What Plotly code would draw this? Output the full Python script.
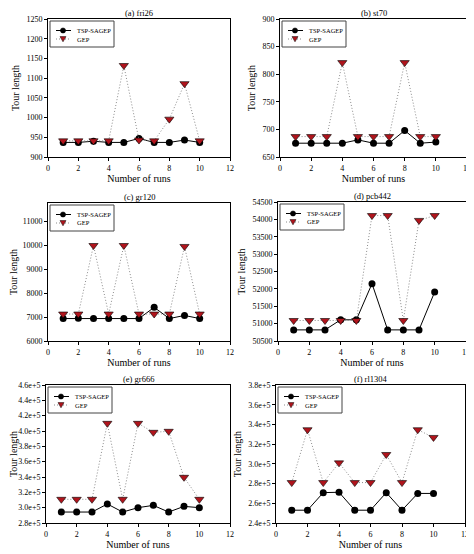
import plotly.graph_objects as go

runs = [1, 2, 3, 4, 5, 6, 7, 8, 9, 10]

# (a) fri26
fri26_sagep = [937, 937, 940, 937, 937, 947, 937, 937, 943, 937]
fri26_gep = [941, 941, 941, 941, 1132, 943, 941, 996, 1086, 941]
# (b) st70
st70_sagep = [675, 675, 675, 675, 681, 675, 675, 698, 675, 677]
st70_gep = [687, 687, 687, 821, 687, 687, 687, 821, 687, 687]
# (c) gr120
gr120_sagep = [6940, 6950, 6940, 6940, 6940, 6940, 7410, 6940, 7070, 6940]
gr120_gep = [7130, 7130, 10000, 7130, 10000, 7130, 7130, 7130, 9960, 7130]
# (d) pcb442
pcb442_sagep = [50820, 50820, 50820, 51110, 51110, 52150, 50820, 50820, 50820, 51910]
pcb442_gep = [51090, 51090, 51090, 51090, 51090, 54110, 54110, 51090, 53970, 54110]
# (e) gr666
gr666_sagep = [294300, 294300, 294300, 304800, 294300, 300000, 303000, 294300, 301700, 300000]
gr666_gep = [310900, 310900, 310900, 410000, 310900, 410000, 398300, 399600, 339600, 310900]
# (f) rl1304
rl1304_sagep = [253000, 253000, 270800, 271200, 253000, 253000, 270800, 253000, 270000, 270000]
rl1304_gep = [281000, 334600, 281000, 301000, 281000, 281000, 309500, 281000, 334600, 326800]

titles = ["(a) fri26", "(b) st70", "(c) gr120", "(d) pcb442", "(e) gr666", "(f) rl1304"]
series_names = ["TSP-SAGEP", "GEP"]

e_ticks = [280000, 300000, 320000, 340000, 360000, 380000, 400000, 420000, 440000, 460000]
e_text = ["2.8e+5", "3.0e+5", "3.2e+5", "3.4e+5", "3.6e+5", "3.8e+5", "4.0e+5", "4.2e+5", "4.4e+5", "4.6e+5"]
f_ticks = [240000, 260000, 280000, 300000, 320000, 340000, 360000, 380000]
f_text = ["2.4e+5", "2.6e+5", "2.8e+5", "3.0e+5", "3.2e+5", "3.4e+5", "3.6e+5", "3.8e+5"]

panels = [
    dict(s=fri26_sagep, g=fri26_gep, yr=[900, 1250], dt=50, tv=None, tt=None),
    dict(s=st70_sagep, g=st70_gep, yr=[650, 900], dt=50, tv=None, tt=None),
    dict(s=gr120_sagep, g=gr120_gep, yr=[6000, 11780], dt=1000, tv=None, tt=None),
    dict(s=pcb442_sagep, g=pcb442_gep, yr=[50500, 54500], dt=500, tv=None, tt=None),
    dict(s=gr666_sagep, g=gr666_gep, yr=[280000, 460000], dt=None, tv=e_ticks, tt=e_text),
    dict(s=rl1304_sagep, g=rl1304_gep, yr=[240000, 380000], dt=None, tv=f_ticks, tt=f_text),
]

# plot-area boxes in window pixels: left, right, top, bottom
boxes = [
    (48, 230, 19, 157), (280, 467, 19, 157),
    (48, 230, 203, 341), (278, 466, 202, 341),
    (46, 230, 385, 523), (276, 465, 385, 523),
]

# the page body has an 8px margin, so the figure starts at (8, 8)
OFF = 8
FW, FH = 474 - OFF, 554 - OFF

font = "Liberation Serif"
RED = "#b0141c"
GREY = "#8c8c8c"
DOT = "1px,2px"


def px(x):
    return (x - OFF) / FW


def py(y):
    return 1 - (y - OFF) / FH


fig = go.Figure()
annotations = []
shapes = []
layout = {}

for i, (p, b) in enumerate(zip(panels, boxes)):
    n = "" if i == 0 else str(i + 1)
    xa, ya = "x" + n, "y" + n
    l, r, t, bt = b
    fig.add_trace(go.Scatter(
        x=runs, y=p["s"], name=series_names[0], xaxis=xa, yaxis=ya,
        mode="lines+markers", line=dict(color="black", width=1),
        marker=dict(symbol="circle", size=7, color="black"), showlegend=False))
    fig.add_trace(go.Scatter(
        x=runs, y=p["g"], name=series_names[1], xaxis=xa, yaxis=ya,
        mode="lines+markers", line=dict(color=GREY, width=1, dash=DOT),
        marker=dict(symbol="triangle-down", size=8, color=RED,
                    line=dict(color="black", width=0.6)), showlegend=False))

    layout["xaxis" + n] = dict(
        domain=[px(l), px(r)], anchor=ya, range=[0, 12], dtick=2,
        showgrid=False, zeroline=False, showline=True, mirror=True,
        linecolor="black", linewidth=1, ticks="outside", ticklen=3,
        tickcolor="black", automargin=False,
        tickfont=dict(family=font, size=8, color="black"),
        title=dict(text="Number of runs", standoff=0,
                   font=dict(family=font, size=10, color="black")))
    ya_d = dict(
        domain=[py(bt), py(t)], anchor=xa, range=p["yr"], showgrid=False,
        zeroline=False, showline=True, mirror=True, linecolor="black",
        linewidth=1, ticks="outside", ticklen=3, tickcolor="black",
        automargin=False,
        tickfont=dict(family=font, size=8, color="black"),
        title=dict(text="Tour length", standoff=4,
                   font=dict(family=font, size=10, color="black")))
    if p["tv"] is not None:
        ya_d["tickvals"] = p["tv"]
        ya_d["ticktext"] = p["tt"]
    else:
        ya_d["dtick"] = p["dt"]
        ya_d["tick0"] = p["yr"][0]
        ya_d["tickformat"] = "d"
    layout["yaxis" + n] = ya_d

    # panel title
    annotations.append(dict(
        text=titles[i], x=px((l + r) / 2), y=py(t - 6),
        xref="paper", yref="paper", showarrow=False,
        xanchor="center", yanchor="middle",
        font=dict(family=font, size=8.5, color="black")))

    # boxed legend in the top-left corner
    bx0, bx1, by0, by1 = l + 2, l + 66, t + 2, t + 28
    shapes.append(dict(type="rect", xref="paper", yref="paper",
                       x0=px(bx0), x1=px(bx1), y0=py(by1), y1=py(by0),
                       line=dict(color="#444444", width=1), fillcolor="white",
                       layer="above"))
    r1, r2 = t + 11.5, t + 20
    sx0, sx1, sc = l + 8, l + 23, l + 15
    shapes.append(dict(type="line", xref="paper", yref="paper",
                       x0=px(sx0), x1=px(sx1), y0=py(r1), y1=py(r1),
                       line=dict(color="black", width=1), layer="above"))
    shapes.append(dict(type="circle", xref="paper", yref="paper",
                       x0=px(sc - 2.6), x1=px(sc + 2.6),
                       y0=py(r1 + 2.6), y1=py(r1 - 2.6),
                       line=dict(color="black", width=0.5),
                       fillcolor="black", layer="above"))
    shapes.append(dict(type="line", xref="paper", yref="paper",
                       x0=px(sx0), x1=px(sx1), y0=py(r2), y1=py(r2),
                       line=dict(color=GREY, width=1, dash=DOT), layer="above"))
    tri = "M {:.5f} {:.5f} L {:.5f} {:.5f} L {:.5f} {:.5f} Z".format(
        px(sc - 3), py(r2 - 2.4), px(sc + 3), py(r2 - 2.4), px(sc), py(r2 + 2.8))
    shapes.append(dict(type="path", xref="paper", yref="paper", path=tri,
                       line=dict(color="black", width=0.5),
                       fillcolor=RED, layer="above"))
    for name, ry in zip(series_names, [r1, r2]):
        annotations.append(dict(
            text=name, x=px(l + 27), y=py(ry), xref="paper", yref="paper",
            showarrow=False, xanchor="left", yanchor="middle",
            font=dict(family=font, size=6.5, color="black")))

fig.update_layout(
    width=FW, height=FH, margin=dict(l=0, r=0, t=0, b=0),
    plot_bgcolor="white", paper_bgcolor="white", showlegend=False,
    annotations=annotations, shapes=shapes, **layout)

fig.write_html("out.html")
